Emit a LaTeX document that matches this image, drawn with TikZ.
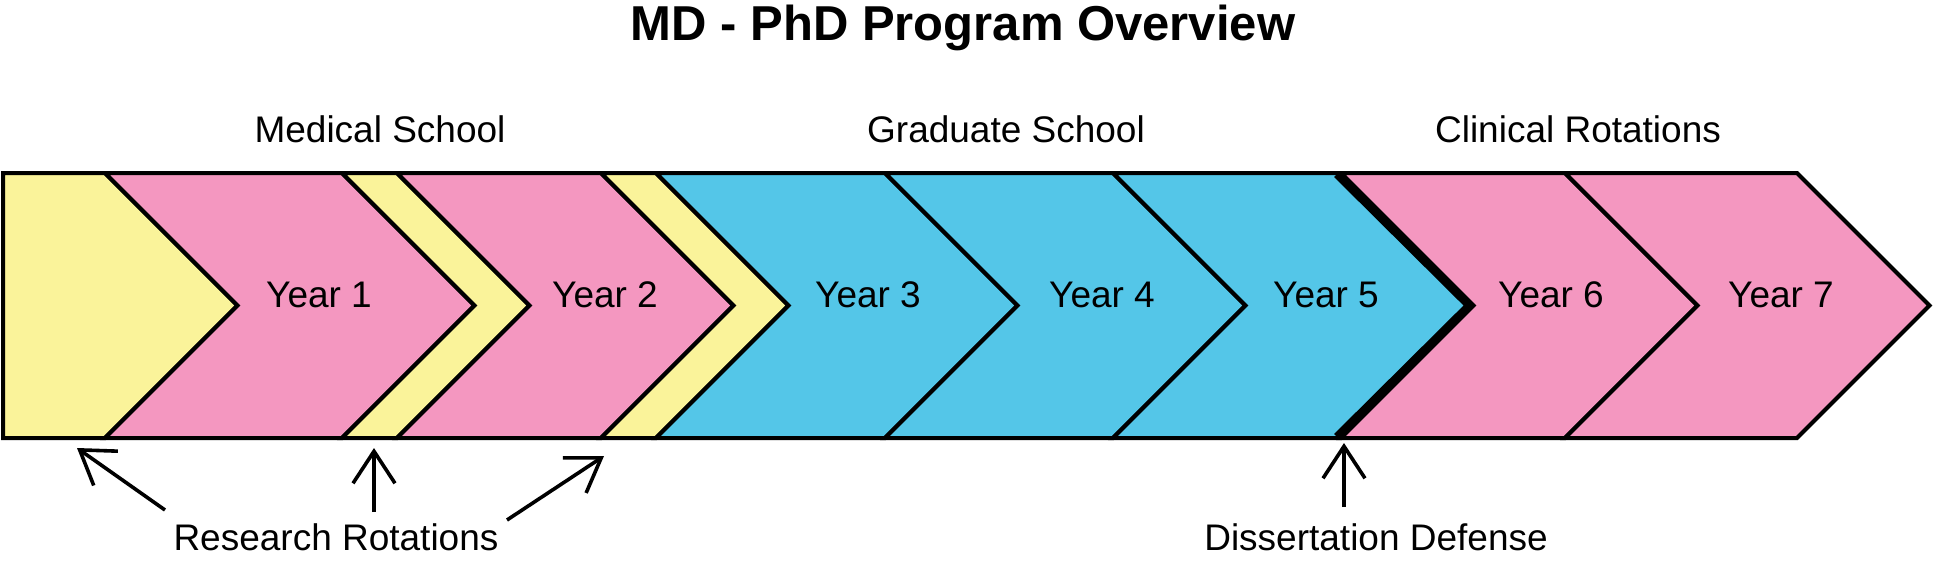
\documentclass[tikz,border=0pt]{standalone}
\usepackage{fontspec}
\setmainfont{Liberation Sans}
\usetikzlibrary{arrows.meta}
\definecolor{cyel}{RGB}{250,243,154}
\definecolor{cpink}{RGB}{244,151,192}
\definecolor{cblue}{RGB}{84,198,232}
\newcommand\mychev[3]{%
  \filldraw[seg,fill=#3] (#1,173) -- (#2,173) -- ({#2+132.5},305.5) -- (#2,438) -- (#1,438) -- ({#1+132.5},305.5) -- cycle;}
\begin{document}
\begin{tikzpicture}[x=0.5pt,y=-0.5pt,
  seg/.style={draw=black,line width=2pt,line join=miter},
  txt/.style={font=\fontsize{18.5}{22}\selectfont,anchor=base,inner sep=0pt},
  ttl/.style={font=\fontsize{24.5}{29}\selectfont\bfseries,anchor=base,inner sep=0pt},
  pointer/.style={line width=1.8pt,-{Straight Barb[length=16pt,width=21pt]}}]
\useasboundingbox (0,0) rectangle (1935,564);
% title and section labels
\node[ttl] (title) at (963,40) {MD - PhD Program Overview};
\node[txt] (med) at (380,142) {Medical School};
\node[txt] (grad) at (1006,142) {Graduate School};
\node[txt] (clin) at (1578,142) {Clinical Rotations};
% band
\filldraw[seg,fill=cyel] (3,173) -- (105,173) -- (237.5,305.5) -- (105,438) -- (3,438) -- cycle;
\mychev{105}{342}{cpink}
\mychev{342}{397}{cyel}
\mychev{397}{601}{cpink}
\mychev{601}{656}{cyel}
\mychev{656}{885}{cblue}
\mychev{885}{1113}{cblue}
\mychev{1113}{1341}{cblue}
\mychev{1341}{1565}{cpink}
\mychev{1565}{1797}{cpink}
\draw[line width=4.2pt,line join=miter] (1337,174) -- (1469.5,305.5) -- (1337,437);
% year labels
\node[txt] (y1) at (319,307) {Year 1};
\node[txt] (y2) at (605,307) {Year 2};
\node[txt] (y3) at (868,307) {Year 3};
\node[txt] (y4) at (1102,307) {Year 4};
\node[txt] (y5) at (1326,307) {Year 5};
\node[txt] (y6) at (1551,307) {Year 6};
\node[txt] (y7) at (1781,307) {Year 7};
% bottom labels and pointers
\node[txt] (rr) at (336,550) {Research Rotations};
\node[txt] (dd) at (1376,550) {Dissertation Defense};
\coordinate (r1s) at (165,510);
\coordinate (r1e) at (77,448);
\coordinate (r2s) at (374,512);
\coordinate (r2e) at (374,448);
\coordinate (r3s) at (507,520);
\coordinate (r3e) at (604,456);
\coordinate (d1s) at (1344,507);
\coordinate (d1e) at (1344,443);
\draw[pointer] (r1s) -- (r1e);
\draw[pointer] (r2s) -- (r2e);
\draw[pointer] (r3s) -- (r3e);
\draw[pointer] (d1s) -- (d1e);
\end{tikzpicture}
\end{document}
